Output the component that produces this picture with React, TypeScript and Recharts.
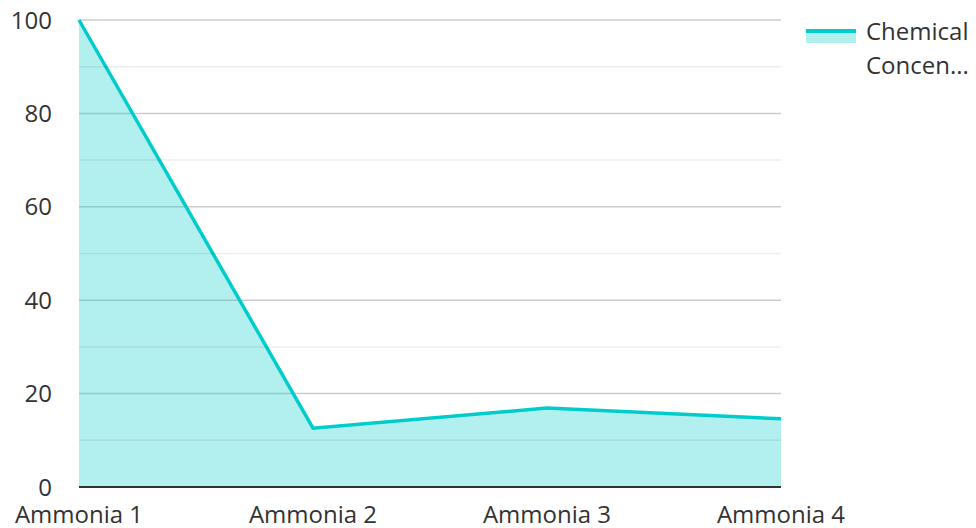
import React from 'react';
import {
  ComposedChart,
  Area,
  XAxis,
  YAxis,
  CartesianGrid,
  ReferenceLine,
  Legend
} from 'recharts';

const categories = ['Ammonia 1', 'Ammonia 2', 'Ammonia 3', 'Ammonia 4'];
const concentration = [100, 12.6, 16.9, 14.6];
const seriesName = 'Chemical Concentration';
const legendLines = ['Chemical', 'Concen...'];
const majorTicks = [0, 20, 40, 60, 80, 100];
const minorTicks = [10, 30, 50, 70, 90];

const LINE = '#00cccc';
const FONT = '"Open Sans", sans-serif';

const data = categories.map((name, i) => ({ name, value: concentration[i] }));

const LegendBox = () => (
  <div style={{ display: 'flex', alignItems: 'flex-start', fontFamily: FONT, fontSize: 24, color: '#333' }}>
    <div style={{ width: 50, marginTop: 15, marginRight: 10 }}>
      <div style={{ height: 4, background: LINE }} />
      <div style={{ height: 10, background: '#b2f0f0' }} />
    </div>
    <div style={{ lineHeight: '34px' }}>
      {legendLines.map((l) => (
        <div key={l}>{l}</div>
      ))}
    </div>
  </div>
);

export default function App() {
  return (
    <div style={{ position: 'absolute', left: 0, top: 0, background: '#fff' }}>
      <ComposedChart width={976} height={528} data={data} margin={{ top: 20, right: 25, left: 0, bottom: 0 }}>
        <CartesianGrid vertical={false} stroke="#cccccc" strokeWidth={1.5} horizontalValues={majorTicks} />
        {minorTicks.map((v) => (
          <ReferenceLine key={v} y={v} stroke="#000" strokeOpacity={0.07} strokeWidth={1.5} />
        ))}
        <XAxis
          dataKey="name"
          height={41}
          tickLine={false}
          tickSize={0}
          tickMargin={19}
          axisLine={{ stroke: '#333', strokeWidth: 2 }}
          tick={{ fill: '#333', fontSize: 24, fontFamily: FONT }}
          interval={0}
        />
        <YAxis
          width={79}
          domain={[0, 100]}
          ticks={majorTicks}
          axisLine={false}
          tickLine={false}
          tickSize={0}
          tickMargin={27}
          tick={{ fill: '#333', fontSize: 24, fontFamily: FONT }}
        />
        <Legend
          layout="vertical"
          align="right"
          verticalAlign="top"
          content={<LegendBox />}
          wrapperStyle={{ top: 14, left: 806, width: 170 }}
        />
        <Area
          type="linear"
          dataKey="value"
          name={seriesName}
          stroke={LINE}
          strokeWidth={3.5}
          fill={LINE}
          fillOpacity={0.3}
          isAnimationActive={false}
        />
      </ComposedChart>
    </div>
  );
}
